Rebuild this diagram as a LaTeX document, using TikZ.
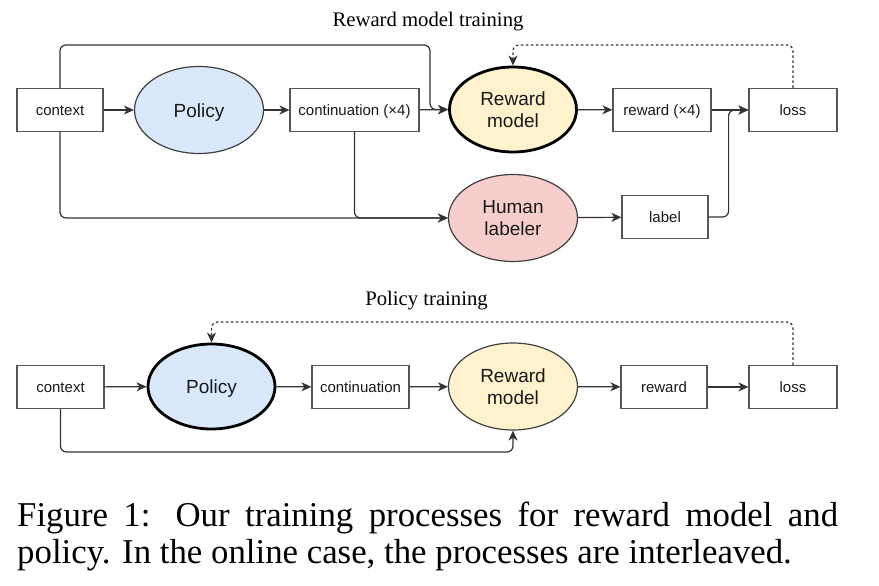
\documentclass[tikz,border=0pt]{standalone}
\usepackage{fontspec}
\setmainfont{Liberation Serif}
\setsansfont{Liberation Sans}
\usetikzlibrary{shapes.geometric,arrows.meta,calc}
\definecolor{polblue}{HTML}{DAE8FC}
\definecolor{rmyellow}{HTML}{FFF2CC}
\definecolor{hlpink}{HTML}{F8CECC}
\definecolor{edgegray}{HTML}{333333}
\definecolor{boxgray}{HTML}{555555}
\begin{document}
\begin{tikzpicture}[x=1pt,y=-1pt,
  box/.style={draw=boxgray, line width=1.2pt, minimum height=43pt, inner sep=0pt, font=\sffamily\fontsize{15}{18}\selectfont, text=black!90, text height=11.5pt, text depth=0.5pt},
  oval/.style={ellipse, draw=black!75, line width=1.2pt, inner sep=0pt, minimum width=129pt, minimum height=87pt, font=\sffamily\fontsize{19}{22}\selectfont, align=center, text=black!90},
  thickoval/.style={oval, draw=black, line width=2.8pt, minimum width=127pt, minimum height=85pt},
  oneline/.style={text height=15pt, text depth=0.4pt},
  conn/.style={draw=edgegray, line width=1.2pt, rounded corners=6pt, -{Stealth[length=10pt,width=9pt,inset=3pt]}},
  fb/.style={conn, dash pattern=on 2.5pt off 2.5pt},
  title/.style={font=\fontsize{20.7}{24}\selectfont, anchor=base, inner sep=0pt}
]
\path[use as bounding box] (0,0) rectangle (879,586);

% ---- Reward model training ----
\node[title] (t1) at (428,27) {Reward model training};
\node[box, minimum width=86pt] (ctxA) at (60,110) {context};
\node[oval, oneline, fill=polblue] (polA) at (199,110) {Policy};
\node[box, minimum width=129pt] (contA) at (354.5,110) {continuation (×4)};
\node[thickoval, fill=rmyellow] (rmA) at (513,109.5) {Reward\\model};
\node[box, minimum width=98pt] (rwA) at (662,110) {reward (×4)};
\node[box, minimum width=88pt] (lossA) at (793,110) {loss};
\node[oval, fill=hlpink] (hlA) at (513,218) {Human\\labeler};
\node[box, minimum width=86pt] (lbA) at (665,217) {label};
\coordinate (topA) at (0,45);
\coordinate (turnA) at (430,45);

\draw[conn] (ctxA) -- (polA);
\draw[conn] (polA) -- (contA);
\draw[conn] (contA) -- (rmA);
\draw[conn] (ctxA.north) |- (turnA) |- (rmA.west);
\draw[conn] (ctxA.south) |- (hlA.west);
\draw[conn] (contA.south) |- (hlA.west);
\draw[conn] (rmA) -- (rwA);
\draw[conn] (rwA) -- (lossA);
\draw[conn] (hlA) -- (lbA);
\draw[conn] (lbA.east) -- ++(20,0) |- (lossA.west);
\draw[fb] (lossA.north) |- (rmA.north |- topA) -- (rmA.north);

% ---- Policy training ----
\node[title] (t2) at (426.5,305) {Policy training};
\node[box, minimum width=87pt] (ctxB) at (60.5,387) {context};
\node[thickoval, oneline, fill=polblue] (polB) at (211.5,386.5) {Policy};
\node[box, minimum width=97pt] (contB) at (360.5,387) {continuation};
\node[oval, fill=rmyellow] (rmB) at (513,386.5) {Reward\\model};
\node[box, minimum width=86pt] (rwB) at (664,387) {reward};
\node[box, minimum width=88pt] (lossB) at (793,387) {loss};
\coordinate (topB) at (0,322);
\coordinate (botB) at (0,452);

\draw[conn] (ctxB) -- (polB);
\draw[conn] (polB) -- (contB);
\draw[conn] (contB) -- (rmB);
\draw[conn] (rmB) -- (rwB);
\draw[conn] (rwB) -- (lossB);
\draw[fb] (lossB.north) |- (polB.north |- topB) -- (polB.north);
\draw[conn] (ctxB.south) |- (rmB.south |- botB) -- (rmB.south);

% ---- caption ----
\node[anchor=base west, inner sep=0pt, text width=821pt, align=justify, font=\fontsize{34.8}{37}\selectfont] (cap) at (17,526) {Figure 1: Our training processes for reward model and\linebreak policy. In the online case, the processes are interleaved.};
\end{tikzpicture}
\end{document}
